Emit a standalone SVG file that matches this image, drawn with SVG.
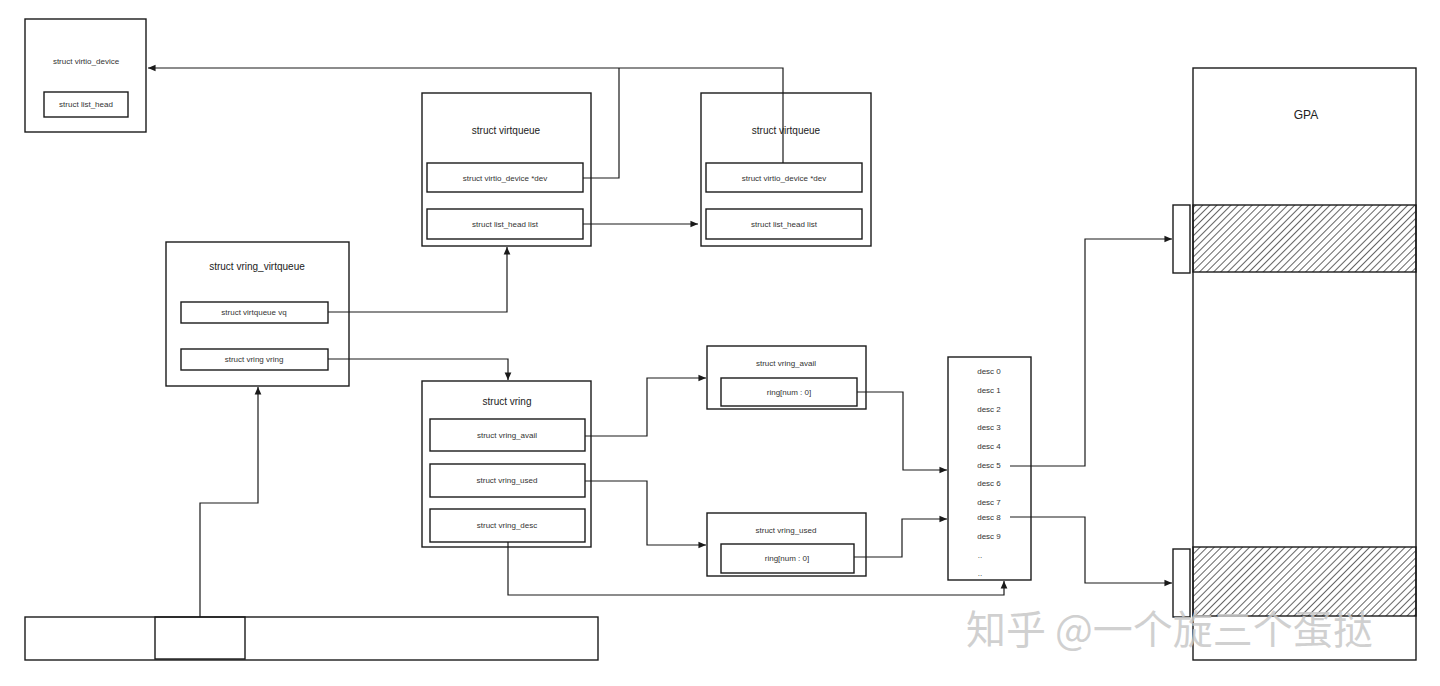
<svg xmlns="http://www.w3.org/2000/svg" width="1440" height="686" viewBox="0 0 1440 686">
<style>
.b{fill:none;stroke:#1a1a1a;stroke-width:1.4}
.t{font-family:"Liberation Sans",sans-serif;font-size:8px;fill:#333;text-anchor:middle}
.tt{font-family:"Liberation Sans",sans-serif;font-size:10px;fill:#222;text-anchor:middle}
.c{fill:none;stroke:#1a1a1a;stroke-width:1.2;marker-end:url(#a)}
.l{fill:none;stroke:#1a1a1a;stroke-width:1.2}
</style>
<defs>
<marker id="a" viewBox="0 0 10 10" refX="9" refY="5" markerWidth="7" markerHeight="7" orient="auto-start-reverse"><path d="M0,1 L9,5 L0,9 Z" fill="#1a1a1a"/></marker>
<pattern id="h" patternUnits="userSpaceOnUse" width="5" height="5" patternTransform="rotate(45)"><line x1="0" y1="0" x2="0" y2="5" stroke="#222" stroke-width="1.4"/></pattern>
</defs>
<rect width="1440" height="686" fill="#fff"/>
<g id="virtio_device"><rect class="b" x="25" y="19" width="121" height="113"/><text class="t" x="86" y="64">struct virtio_device</text><rect class="b" x="44" y="92" width="84" height="25"/><text class="t" x="86" y="107">struct list_head</text></g>
<g id="virtqueue1"><rect class="b" x="422" y="93" width="169" height="153"/><text class="tt" x="506" y="134">struct virtqueue</text><rect class="b" x="427" y="163" width="156" height="29"/><text class="t" x="505" y="181">struct virtio_device *dev</text><rect class="b" x="427" y="209" width="156" height="30"/><text class="t" x="505" y="227">struct list_head list</text></g>
<g id="virtqueue2"><rect class="b" x="701" y="93" width="170" height="153"/><text class="tt" x="786" y="134">struct virtqueue</text><rect class="b" x="706" y="163" width="156" height="29"/><text class="t" x="784" y="181">struct virtio_device *dev</text><rect class="b" x="706" y="209" width="156" height="30"/><text class="t" x="784" y="227">struct list_head list</text></g>
<g id="vring_virtqueue"><rect class="b" x="166" y="242" width="183" height="144"/><text class="tt" x="257" y="270">struct vring_virtqueue</text><rect class="b" x="181" y="302" width="147" height="21"/><text class="t" x="254" y="315">struct virtqueue vq</text><rect class="b" x="181" y="349" width="147" height="21"/><text class="t" x="254" y="362">struct vring vring</text></g>
<g id="vring"><rect class="b" x="422" y="381" width="169" height="166"/><text class="tt" x="507" y="405">struct vring</text><rect class="b" x="430" y="419" width="155" height="32"/><text class="t" x="507" y="438">struct vring_avail</text><rect class="b" x="430" y="464" width="155" height="33"/><text class="t" x="507" y="483">struct vring_used</text><rect class="b" x="430" y="509" width="155" height="33"/><text class="t" x="507" y="528">struct vring_desc</text></g>
<g id="vring_avail"><rect class="b" x="707" y="346" width="159" height="63"/><text class="t" x="786" y="366">struct vring_avail</text><rect class="b" x="721" y="378" width="136" height="28"/><text class="t" x="789" y="395">ring[num : 0]</text></g>
<g id="vring_used"><rect class="b" x="707" y="513" width="159" height="63"/><text class="t" x="786" y="533">struct vring_used</text><rect class="b" x="721" y="544" width="133" height="29"/><text class="t" x="787" y="561">ring[num : 0]</text></g>
<g id="desc_table"><rect class="b" x="948" y="357" width="83" height="223"/>
<text class="t" x="989" y="374">desc 0</text><text class="t" x="989" y="393">desc 1</text><text class="t" x="989" y="412">desc 2</text><text class="t" x="989" y="430">desc 3</text><text class="t" x="989" y="449">desc 4</text><text class="t" x="989" y="468">desc 5</text><text class="t" x="989" y="486">desc 6</text><text class="t" x="989" y="505">desc 7</text><text class="t" x="989" y="520">desc 8</text><text class="t" x="989" y="539">desc 9</text><text class="t" x="980" y="558">..</text><text class="t" x="980" y="576">..</text></g>
<g id="gpa"><rect class="b" x="1193" y="68" width="223" height="592"/><text class="tt" x="1306" y="119" style="font-size:12px">GPA</text>
<rect x="1193" y="205" width="223" height="67" fill="url(#h)" stroke="#1a1a1a" stroke-width="1.4"/>
<rect x="1193" y="547" width="223" height="69" fill="url(#h)" stroke="#1a1a1a" stroke-width="1.4"/>
<rect class="b" x="1173" y="205" width="17" height="68"/><rect class="b" x="1173" y="549" width="17" height="68"/></g>
<g id="bar"><rect class="b" x="25" y="617" width="573" height="43"/><rect class="b" x="155" y="617" width="90" height="42"/></g>
<g id="connectors">
<path class="l" d="M583,178 H619 V68"/>
<path class="c" d="M783,163 V68 H148"/>
<path class="c" d="M583,224 H698"/>
<path class="c" d="M328,312 H507 V247"/>
<path class="c" d="M328,359 H508 V380"/>
<path class="c" d="M200,617 V503 H258 V387"/>
<path class="c" d="M585,436 H647 V378 H706"/>
<path class="c" d="M585,481 H647 V545 H706"/>
<path class="c" d="M508,542 V595 H1004 V581"/>
<path class="c" d="M857,392 H903 V470 H947"/>
<path class="c" d="M854,557 H902 V519 H947"/>
<path class="c" d="M1010,466 H1085 V239 H1172"/>
<path class="c" d="M1010,517 H1085 V583 H1172"/>
</g>
<text x="966" y="644" style="font-family:'Noto Sans CJK SC',sans-serif;font-size:40px;fill:#c8c8c8;fill-opacity:0.85">知乎 @一个旋三个蛋挞</text>
</svg>
